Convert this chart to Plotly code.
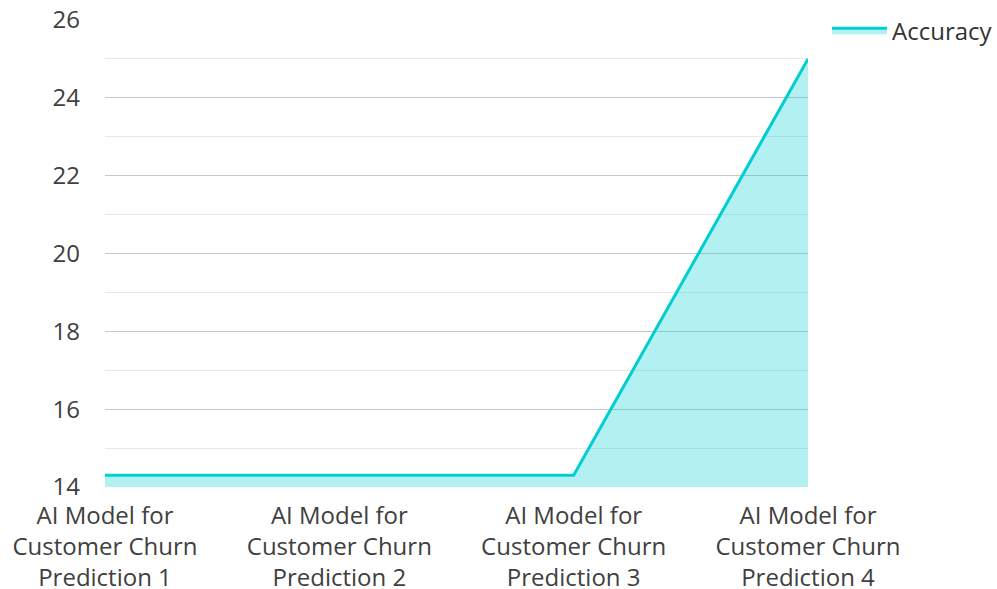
import plotly.graph_objects as go

categories = ["AI Model for<br>Customer Churn<br>Prediction 1",
              "AI Model for<br>Customer Churn<br>Prediction 2",
              "AI Model for<br>Customer Churn<br>Prediction 3",
              "AI Model for<br>Customer Churn<br>Prediction 4"]
accuracy = [14.3, 14.3, 14.3, 25]
y_ticks = [14, 16, 18, 20, 22, 24, 26]

xs = list(range(len(categories)))
fig = go.Figure()
fig.add_trace(go.Scatter(
    x=xs, y=accuracy, name="Accuracy", mode="lines",
    line=dict(color="#00CED1", width=3),
    fill="tozeroy", fillcolor="rgba(0,206,209,0.3)",
))
fig.update_layout(
    width=997, height=589,
    margin=dict(l=105, r=189, t=20, b=102),
    paper_bgcolor="white", plot_bgcolor="white",
    font=dict(family="Open Sans", size=24, color="#404040"),
    showlegend=True,
    legend=dict(xref="container", yref="container", x=0.8295, y=0.986,
                xanchor="left", yanchor="top",
                font=dict(size=24, color="#333333"), itemwidth=55),
    xaxis=dict(range=[0, 3], tickvals=xs, ticktext=categories,
               showgrid=False, zeroline=False, showline=False,
               ticks="", ticklabelstandoff=12, automargin=False),
    yaxis=dict(range=[14, 26], tickvals=y_ticks, showgrid=True,
               gridcolor="#c8c8c8", gridwidth=1, zeroline=False,
               showline=False, ticks="", ticklabelstandoff=24, automargin=False,
               minor=dict(dtick=1, showgrid=True, gridcolor="#e8e8e8", gridwidth=1)),
)
fig.write_html("out.html")
